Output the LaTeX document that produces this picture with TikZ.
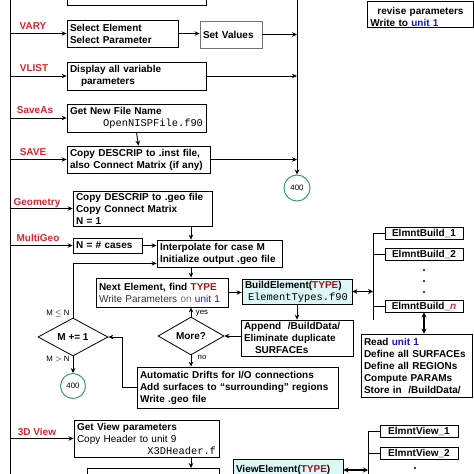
\documentclass[tikz,border=0pt]{standalone}
\usepackage{fontspec}
\setmainfont{Liberation Sans}
\setmonofont{Liberation Mono}
\usetikzlibrary{arrows.meta,shapes.geometric}
\definecolor{cmdred}{HTML}{E2222E}
\definecolor{typered}{HTML}{9E1818}
\definecolor{unitblue}{HTML}{1414C8}
\definecolor{gocol}{HTML}{3A9A7E}
\definecolor{cyanfill}{HTML}{DDF6F6}
\newcommand{\tp}{\textcolor{typered}{TYPE}}
\newcommand{\uone}{\textcolor{unitblue}{unit 1}}
\newcommand{\mono}[1]{{\mdseries\ttfamily\fontsize{10.4}{12}\selectfont #1}}

\begin{document}
\begin{tikzpicture}[x=1pt,y=-1pt,
    every node/.style={font=\bfseries\fontsize{10}{12}\selectfont},
    box/.style={draw,line width=0.8pt,align=left,inner xsep=3pt,inner ysep=1pt},
    ebox/.style={draw,line width=0.8pt,inner sep=0pt,minimum width=78pt,minimum height=12pt},
    cmd/.style={text=cmdred},
    small/.style={font=\mdseries\fontsize{7.8}{9}\selectfont},
    go/.style={draw=gocol,circle,line width=1pt,inner sep=0pt,font=\mdseries\fontsize{7.8}{9}\selectfont},
    dec/.style={draw,diamond,line width=0.8pt,inner sep=0pt},
    flow/.style={line width=0.9pt,-{Stealth[length=5pt,width=4.5pt]}},
    both/.style={line width=1.2pt,{Stealth[length=5pt,width=5pt]}-{Stealth[length=5pt,width=5pt]}},
    link/.style={line width=0.9pt},
    dot/.style={circle,fill,inner sep=0pt,minimum size=2.2pt}]
  \clip (0,0) rectangle (474,474);
  \useasboundingbox (0,0) rectangle (474,474);

  \coordinate (mtop) at (10,-5);
  \coordinate (mbot) at (10,480);
  \coordinate (rtop) at (297,-5);
  \coordinate (back) at (122,0);
  \coordinate (bt) at (373,233);
  \coordinate (bb) at (373,320);
  \coordinate (vt) at (368,431);
  \coordinate (vb) at (368,480);

  \node[box,anchor=south west,minimum width=139pt,minimum height=30pt] (topbox) at (67,6) {};
  \node[box,anchor=south west,text width=100pt] (edit) at (367,28)
    {\mbox{}\\\hspace*{7pt}revise parameters\\Write to \uone};

  \node[cmd] (lvary) at (33,26) {VARY};
  \node[box,text width=105pt,minimum height=27pt] (vary) at (122.5,33.5)
    {Select Element\\Select Parameter};
  \node[box,draw=black!55,text width=56pt,minimum height=27pt] (setval) at (231,34.5) {Set Values};

  \node[cmd] (lvlist) at (34,68) {VLIST};
  \node[box,text width=133pt,minimum height=28pt] (vlist) at (136.5,76)
    {Display all variable\\\hspace*{11pt}parameters};

  \node[cmd] (lsaveas) at (35,110) {SaveAs};
  \node[box,text width=133pt,minimum height=28pt] (saveas) at (136.5,118)
    {Get New File Name\\\hspace*{\fill}\mono{OpenNISPFile.f90}};

  \node[cmd] (lsave) at (33,152) {SAVE};
  \node[box,text width=137pt,minimum height=27pt] (save) at (138.5,159.5)
    {Copy DESCRIP to .inst file,\\also Connect Matrix (if any)};

  \node[go,minimum size=26pt] (goa) at (297,188) {400};

  \node[cmd] (lgeom) at (37,203) {Geometry};
  \node[box,text width=133pt,minimum height=35pt] (geom) at (142.5,208.5)
    {Copy DESCRIP to .geo file\\Copy Connect Matrix\\N = 1};

  \node[cmd] (lmulti) at (38,238) {MultiGeo};
  \node[box,text width=63pt,minimum height=15pt] (ncases) at (107.5,245.5) {N = \# cases};
  \node[box,text width=119pt,minimum height=27pt] (interp) at (219.5,253.5)
    {Interpolate for case M\\Initialize output .geo file};

  \node[box,text width=126pt,minimum height=29pt] (next) at (162,292.5)
    {Next Element, find \tp\\{\mdseries\textcolor{black!80}{Write Parameters}
    \textcolor{black!55}{on} \textcolor{unitblue}{unit 1}}};
  \node[box,fill=cyanfill,text width=104pt,minimum height=25pt] (build) at (297,291.5)
    {BuildElement(\tp)\\\hspace*{3pt}\mono{ElementTypes.f90}};
  \node[box,text width=106pt,minimum height=36pt] (append) at (297,338)
    {Append\ \ /BuildData/\\Eliminate duplicate\\\hspace*{11pt}SURFACEs};

  \node[dec,minimum width=66pt,minimum height=38pt] (more) at (191,336) {More?};
  \node[dec,minimum width=70pt,minimum height=38pt] (minc) at (73,337) {M += 1};
  \node[small] (lle) at (58,313) {M $\leq$ N};
  \node[small] (lgt) at (58,359) {M $>$ N};
  \node[small] (lyes) at (202,313) {yes};
  \node[small] (lno) at (202,357) {no};
  \node[go,minimum size=25pt] (gob) at (73,386) {400};

  \node[box,text width=195pt,minimum height=41pt] (drift) at (237.5,387.5)
    {Automatic Drifts for I/O connections\\Add surfaces to “surrounding” regions\\Write .geo file};

  \node[ebox] (eb1) at (424,233) {ElmntBuild\_1};
  \node[ebox] (eb2) at (424,254) {ElmntBuild\_2};
  \node[dot] (d1) at (424,270) {};
  \node[dot] (d2) at (424,281) {};
  \node[dot] (d3) at (424,292) {};
  \node[ebox] (ebn) at (424,306) {ElmntBuild\_\textcolor{cmdred}{\textit{n}}};
  \node[box,text width=105pt,minimum height=63pt] (read) at (416.5,365.5)
    {Read \uone\\Define all SURFACEs\\Define all REGIONs\\Compute PARAMs\\Store in\ \ /BuildData/};

  \node[cmd] (l3d) at (37,432) {3D View};
  \node[box,text width=139pt,minimum height=37pt] (getview) at (146.5,438.5)
    {Get View parameters\\{\mdseries Copy Header to unit 9}\\\hspace*{\fill}\mono{X3DHeader.f}};
  \node[box,anchor=north,minimum width=132pt,minimum height=20pt] (vbot) at (153,468) {};
  \node[box,fill=cyanfill,anchor=north,text width=104pt,minimum height=30pt,inner ysep=0.5pt] (viewel) at (288,459)
    {ViewElement(\tp)\\\mbox{}};
  \node[ebox] (ev1) at (419,431) {ElmntView\_1};
  \node[ebox] (ev2) at (419,453) {ElmntView\_2};
  \node[dot] (vd1) at (415,468) {};

  \draw[link] (mtop) -- (mbot);
  \draw[flow] (rtop) -- (goa.north);
  \draw[flow] (mtop |- vary.west) -- (vary.west);
  \draw[flow] (vary.east) -- (vary.east -| setval.west);
  \draw[flow] (setval.east) -- (setval.east -| rtop);
  \draw[flow] (mtop |- vlist.west) -- (vlist.west);
  \draw[flow] (vlist.east) -- (vlist.east -| rtop);
  \draw[flow] (mtop |- saveas.west) -- (saveas.west);
  \draw[flow] (saveas.south) -- (save.north);
  \draw[flow] (mtop |- save.west) -- (save.west);
  \draw[flow] (save.east) -- (save.east -| rtop);
  \draw[flow] (mtop |- geom.west) -- (geom.west);
  \draw[flow] (mtop |- ncases.west) -- (ncases.west);
  \draw[flow] (ncases.east) -- (ncases.east -| interp.west);
  \draw[flow] (geom.south -| more) -- (interp.north -| more);
  \draw[flow] (interp.south -| more) -- (next.north -| more);
  \draw[flow] (next.east) -- (next.east -| build.west);
  \draw[both] (build.east) -- (build.east -| bt);
  \draw[flow] (build.south) -- (append.north);
  \draw[flow] (more.east -| append.west) -- (more.east);
  \draw[flow] (more.north) -- (more.north |- next.south);
  \draw[flow] (more.south) -- (more.south |- drift.north);
  \draw[flow] (drift.west) -| (back |- minc.east) -- (minc.east);
  \draw[flow] (minc.north) |- ([yshift=4pt]interp.south west);
  \draw[flow] (minc.south) -- (gob.north);
  \draw[link] (bt) -- (bb);
  \draw[link] (eb1.west) -- (eb1.west -| bt);
  \draw[link] (eb2.west) -- (eb2.west -| bt);
  \draw[link] (ebn.west) -- (ebn.west -| bt);
  \draw[both] (ebn.south) -- (ebn.south |- read.north);
  \draw[flow] (mtop |- getview.west) -- (getview.west);
  \draw[flow] (getview.south -| more) -- (vbot.north -| more);
  \draw[link] (vt) -- (vb);
  \draw[link] (ev1.west) -- (ev1.west -| vt);
  \draw[link] (ev2.west) -- (ev2.west -| vt);
  \draw[both] ([yshift=-11pt]viewel.north east) -- ([yshift=-11pt]viewel.north east -| vt);
\end{tikzpicture}
\end{document}
